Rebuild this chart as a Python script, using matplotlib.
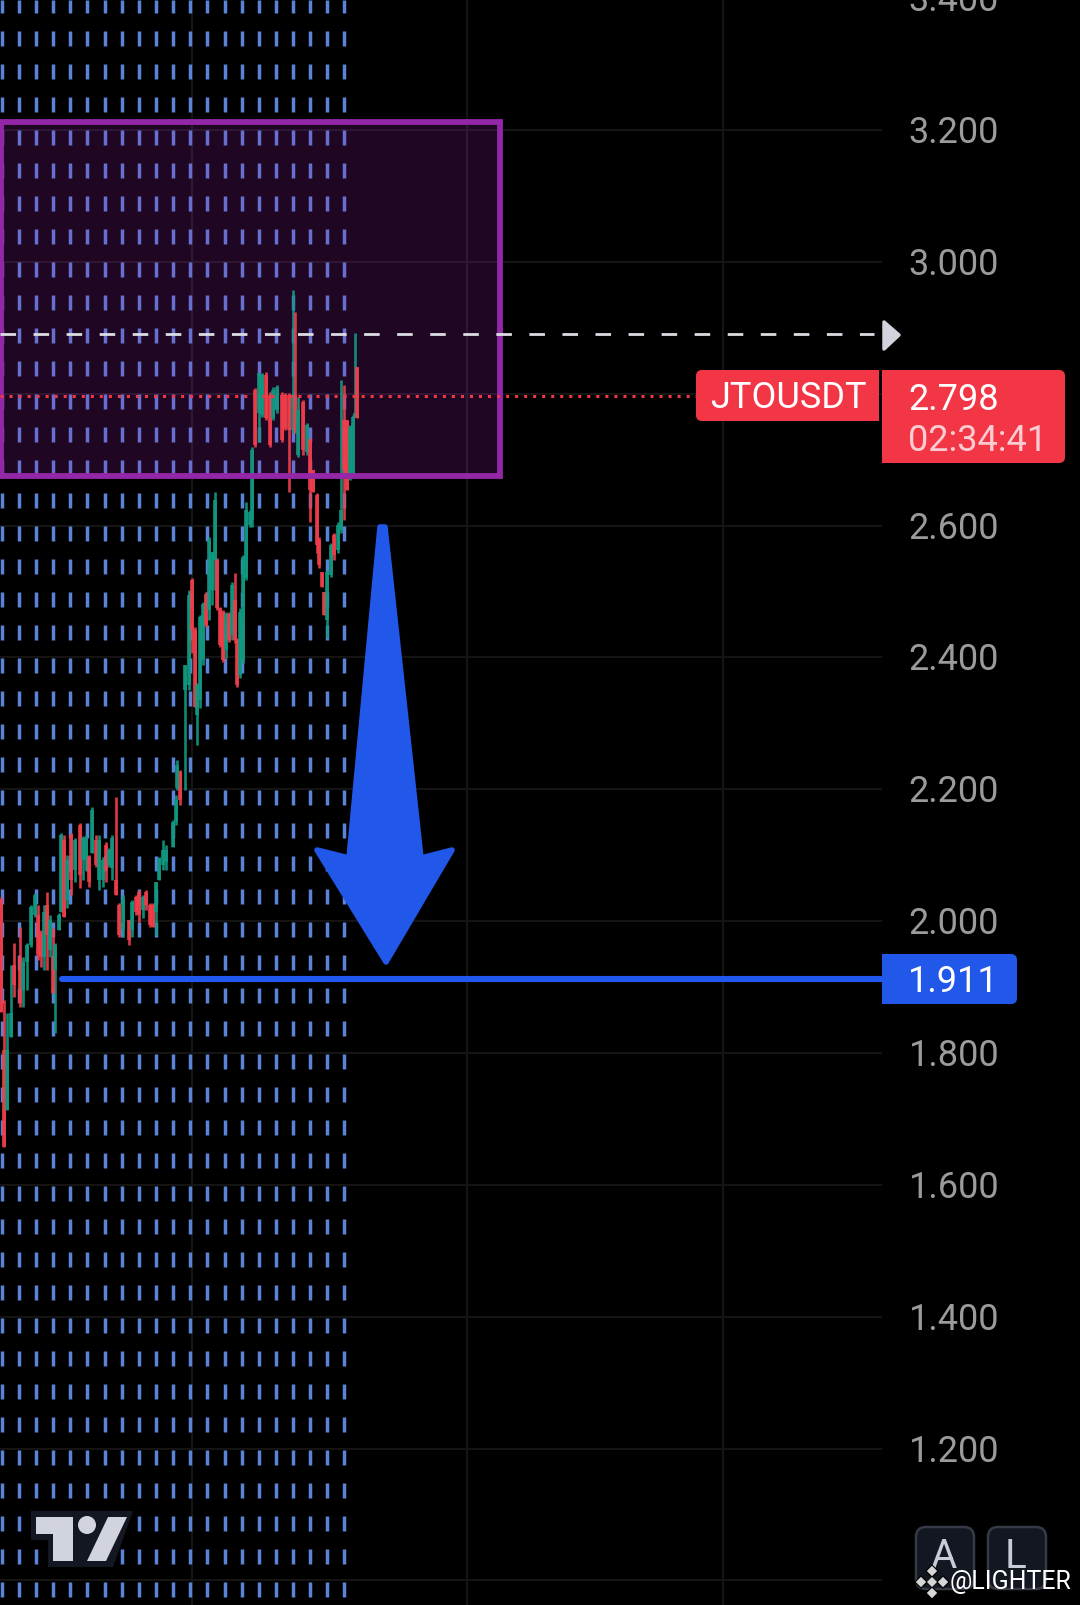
import matplotlib
matplotlib.use("Agg")
import matplotlib.pyplot as plt
import numpy as np
from matplotlib.patches import Rectangle, FancyBboxPatch, Polygon, Circle
from matplotlib.transforms import Affine2D

plt.rcParams['font.family'] = ['Roboto', 'DejaVu Sans']
plt.rcParams['lines.scale_dashes'] = False

# ---------- data ----------
bar_times = [1,4,7,11,14,20,23,27,31,35,38,41,44,47,50,53,55,59,61,64,67,71,75,80,83,86,89,92,96,99,103,106,109,112,116,119,123,129,132,136,139,143,146,150,153,156,159,163,166,173,176,180,177,185,189,192,195,197,200,203,206,209,212,215,217,220,223,226,229,232,235,237,240,243,246,250,252,255,259,262,266,270,273,277,282,285,289,293,295,298,303,307,310,313,317,319,322,324,327,331,334,338,341,344,347,350,353,355,357]
highs = [2.036,1.880,1.860,1.933,1.967,1.991,1.945,1.967,2.024,2.043,2.024,1.986,2.024,2.044,2.009,1.989,1.967,2.012,2.134,2.131,2.100,2.134,2.126,2.149,2.129,2.131,2.100,2.173,2.131,2.131,2.097,2.120,2.111,2.131,2.188,2.027,2.040,2.002,2.032,2.040,2.047,2.040,2.047,2.027,2.027,2.059,2.097,2.123,2.115,2.153,2.191,2.229,2.244,2.388,2.502,2.520,2.446,2.361,2.464,2.484,2.499,2.582,2.560,2.651,2.551,2.476,2.472,2.469,2.469,2.514,2.528,2.429,2.475,2.555,2.636,2.623,2.719,2.808,2.831,2.831,2.833,2.802,2.810,2.813,2.802,2.801,2.801,2.957,2.924,2.795,2.790,2.755,2.733,2.684,2.649,2.582,2.529,2.499,2.532,2.573,2.589,2.605,2.821,2.813,2.760,2.752,2.767,2.892,2.840]
lows = [1.862,1.657,1.713,1.824,1.885,1.870,1.870,1.895,1.961,2.006,1.941,1.930,1.926,1.926,1.945,1.891,1.830,1.986,2.014,2.006,2.020,2.040,2.059,2.050,2.062,2.077,2.052,2.103,2.082,2.047,2.052,2.059,2.082,2.062,2.040,1.976,1.976,1.964,1.976,2.009,1.998,2.005,2.017,1.991,1.991,1.979,2.062,2.077,2.077,2.112,2.146,2.176,2.199,2.199,2.350,2.407,2.325,2.267,2.323,2.388,2.446,2.457,2.479,2.502,2.472,2.416,2.393,2.399,2.423,2.426,2.422,2.355,2.369,2.391,2.517,2.598,2.598,2.719,2.727,2.764,2.760,2.719,2.760,2.771,2.727,2.745,2.651,2.740,2.740,2.704,2.707,2.707,2.605,2.651,2.558,2.535,2.507,2.464,2.429,2.522,2.548,2.558,2.589,2.608,2.654,2.669,2.672,2.764,2.763]
body_tops = [2.032,1.804,1.804,1.860,1.933,1.945,1.938,1.964,2.021,2.040,2.009,1.983,2.014,2.024,2.002,1.945,1.964,2.009,2.131,2.123,2.093,2.131,2.123,2.146,2.126,2.126,2.097,2.168,2.123,2.123,2.093,2.115,2.108,2.126,2.062,2.024,2.032,2.002,2.029,2.037,2.044,2.037,2.044,2.024,2.024,2.059,2.096,2.108,2.108,2.150,2.184,2.226,2.237,2.388,2.495,2.517,2.441,2.358,2.461,2.481,2.496,2.578,2.560,2.639,2.548,2.475,2.469,2.466,2.466,2.510,2.487,2.426,2.469,2.552,2.623,2.620,2.714,2.805,2.831,2.828,2.828,2.798,2.805,2.810,2.798,2.798,2.798,2.798,2.798,2.775,2.787,2.752,2.730,2.684,2.646,2.578,2.529,2.499,2.529,2.570,2.586,2.601,2.623,2.760,2.760,2.749,2.764,2.770,2.840]
body_bottoms = [1.862,1.657,1.713,1.824,1.903,1.876,1.895,1.938,1.964,2.009,1.948,1.945,1.945,1.979,1.956,1.891,1.926,1.986,2.014,2.006,2.032,2.062,2.077,2.070,2.093,2.093,2.059,2.103,2.085,2.062,2.062,2.077,2.085,2.080,2.040,1.979,1.986,1.971,1.986,2.014,2.009,2.017,2.024,1.994,1.991,2.014,2.062,2.085,2.090,2.112,2.150,2.184,2.202,2.350,2.358,2.441,2.325,2.312,2.335,2.396,2.449,2.472,2.502,2.548,2.475,2.419,2.396,2.411,2.426,2.434,2.426,2.358,2.373,2.396,2.520,2.601,2.608,2.722,2.771,2.768,2.763,2.722,2.763,2.775,2.730,2.748,2.745,2.745,2.745,2.707,2.714,2.711,2.654,2.651,2.570,2.540,2.507,2.464,2.457,2.525,2.555,2.563,2.593,2.684,2.654,2.672,2.675,2.764,2.763]
is_up = [0,0,1,1,0,0,1,1,1,1,0,0,1,0,1,0,1,1,1,0,1,0,1,0,1,1,0,1,0,1,1,0,1,1,0,0,1,0,1,0,0,1,0,0,0,1,1,1,1,1,1,0,1,1,1,0,0,1,1,1,0,1,1,1,0,0,0,1,0,1,0,0,1,1,1,1,1,0,1,1,0,0,1,1,0,0,0,1,0,1,0,1,0,0,0,0,0,0,1,1,0,1,1,0,0,1,1,1,0]

grid_prices = [3.4,3.2,3.0,2.8,2.6,2.4,2.2,2.0,1.8,1.6,1.4,1.2,1.0]
tick_labels = ["3.400","3.200","3.000",None,"2.600","2.400","2.200","2.000","1.800","1.600","1.400","1.200",None]
time_grid = [192,467,723]
dotted_times = [2.3,19,36,53,70,87,105,122,139,156,173,190,207,225,242,259,276,293,310,327,344]
zone_low, zone_high = 2.675, 3.212
target_price = 1.911
target_line = 1.9125
last_price = 2.796
last_text = "2.798"
countdown = "02:34:41"
symbol = "JTOUSDT"
alert_price = 2.890

# ---------- figure ----------
W, H = 1080, 1605
fig = plt.figure(figsize=(W/100, H/100), dpi=100, facecolor='black')
ax = fig.add_axes([0, 0, 1, 1], facecolor='black')
ax.set_xlim(0, W)
ax.set_ylim(3.2 - (H-130)/659.3, 3.2 + 130/659.3)
ax.axis('off')
px = Affine2D().scale(1, -1).translate(0, H)   # overlay widgets in screen pixels

# grid
ax.hlines(grid_prices, 0, 882, color='#151516', lw=1.4, zorder=1)
ax.vlines(time_grid, ax.get_ylim()[0], ax.get_ylim()[1], color='#151516', lw=1.6, zorder=1)

# dotted vertical lines
top, bottom = ax.get_ylim()[1], ax.get_ylim()[0]
dashes = ax.vlines(dotted_times, top, bottom, color='#5b83d8', lw=2.5,
                   linestyles=[(1.44, (10.8, 12.96))], zorder=2)
dashes.set_capstyle('butt')

# zone
ax.add_patch(Rectangle((1, zone_low), 499, zone_high-zone_low, facecolor='#9c27b0', alpha=0.2, edgecolor='none', zorder=3))
ax.add_patch(Rectangle((1, zone_low), 499, zone_high-zone_low, facecolor='none', edgecolor='#9427a8', lw=4.2, zorder=6))

# candles
t = np.array(bar_times, float)
up = np.array(is_up, bool)
colors = np.where(up, '#129a82', '#f23f4c')
ax.vlines(t, lows, highs, colors=colors, lw=1.9, zorder=4, alpha=0.9)
ax.bar(t, np.array(body_tops)-np.array(body_bottoms), bottom=body_bottoms, width=3.8, color=colors, zorder=4, alpha=0.8, linewidth=0)

# price lines
ax.plot([0, 874], [alert_price]*2, color='#dcdde3', lw=2.0, ls=(0, (11.2, 12.6)), dash_capstyle='butt', zorder=7)
ax.plot([0, 697], [last_price]*2, color='#f23645', lw=2.2, ls=(0, (2.2, 4.3)), dash_capstyle='butt', zorder=7)
ax.plot([62, 882], [target_line]*2, color='#2158f0', lw=4.4, solid_capstyle='round', zorder=7)

# alert triangle
ax.add_patch(Polygon([(884,322),(884,349),(899,335)], closed=True, transform=px, facecolor='#d1d4dc', edgecolor='#d1d4dc', lw=2.5, joinstyle='round', zorder=8))

# big arrow
ax.add_patch(Polygon([(380,527),(385,527),(421,858),(452,850),(386,962),(317,850),(349,858)], closed=True, transform=px,
                     facecolor='#2158ea', edgecolor='#2158ea', lw=4, joinstyle='round', zorder=7))

# y labels
for p, lab in zip(grid_prices, tick_labels):
    if lab:
        ax.text(954, p, lab, color='#9b9b9b', fontsize=26, ha='center', va='center_baseline', zorder=9, clip_on=True,
                transform=ax.transData + Affine2D().translate(0, 1))

def box(x0, y0, x1, y1, color, sq_side):
    r = 6
    ax.add_patch(FancyBboxPatch((x0+r, y0+r), x1-x0-2*r, y1-y0-2*r, boxstyle=f'round,pad={r},rounding_size={r}',
                                transform=px, facecolor=color, edgecolor='none', zorder=9))
    if sq_side == 'left':
        ax.add_patch(Rectangle((x0, y0), 14, y1-y0, transform=px, facecolor=color, edgecolor='none', zorder=9))
    else:
        ax.add_patch(Rectangle((x1-14, y0), 14, y1-y0, transform=px, facecolor=color, edgecolor='none', zorder=9))

box(696, 370, 879, 421, '#f23645', 'right')
box(882, 370, 1065, 463, '#f23645', 'left')
box(882, 954, 1017, 1004, '#2158ea', 'left')

def tx(x, y, s, **kw):
    ax.text(x, y, s, transform=px, zorder=10, **kw)

tx(788, 398, symbol, color='white', fontsize=26, ha='center', va='center')
tx(908, 400, last_text, color='white', fontsize=26, ha='left', va='center')
tx(908, 441, countdown, color='#fbcdd2', fontsize=26, ha='left', va='center')
tx(908, 982, f"{target_price:.3f}", color='white', fontsize=26, ha='left', va='center')

# logo
ax.add_patch(Polygon([(31,1511),(133,1511),(113,1567),(48,1567),(48,1540),(31,1540)], closed=True, transform=px, facecolor='#131722', edgecolor='none', zorder=8))
ax.add_patch(Polygon([(36,1517),(73,1517),(73,1561),(53,1561),(53,1534),(36,1534)], closed=True, transform=px, facecolor='#d1d4dc', edgecolor='none', zorder=9))
ax.add_patch(Circle((87,1525), 9, transform=px, facecolor='#d1d4dc', edgecolor='none', zorder=9))
ax.add_patch(Polygon([(108,1517),(127,1517),(106,1561),(87,1561)], closed=True, transform=px, facecolor='#d1d4dc', edgecolor='none', zorder=9))

# A / L buttons
for (x0, lab) in [(916, 'A'), (988, 'L')]:
    ax.add_patch(FancyBboxPatch((x0+10, 1537), 38, 42, boxstyle='round,pad=10,rounding_size=10', transform=px,
                                facecolor='#131722', edgecolor='#363a45', lw=1.8, zorder=8))
    tx(x0+28, 1557, lab, color='#c8ccd8', fontsize=29, ha='center', va='center')

# watermark
for dx, dy in [(0,-11),(-11,0),(11,0),(0,11)]:
    ax.add_patch(Polygon([(932+dx,1582+dy-6),(932+dx+6,1582+dy),(932+dx,1582+dy+6),(932+dx-6,1582+dy)], closed=True,
                         transform=px, facecolor='#d6d6d6', edgecolor='black', lw=0.8, zorder=11))
ax.add_patch(Polygon([(932,1577),(937,1582),(932,1587),(927,1582)], closed=True, transform=px, facecolor='#d6d6d6', edgecolor='none', zorder=11))
tx(950, 1582, "@LIGHTER", color='white', fontsize=18, ha='left', va='center')

fig.savefig('out.png', dpi=100, facecolor='black')
